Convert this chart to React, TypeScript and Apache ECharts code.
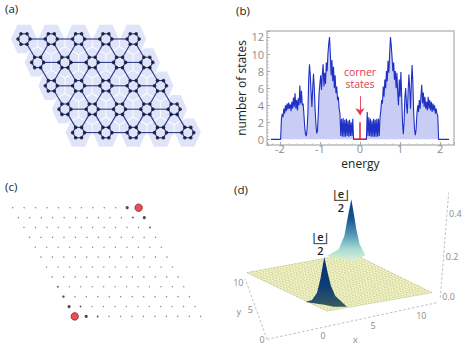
import React, { useEffect, useRef } from "react";
import * as echarts from "echarts";

const FONT = "Open Sans";

// (a) lattice
const hexRows = [0, 1, 2, 3, 4];
const hexCols = [0, 1, 2, 3, 4];

// (b) density of states
const energyStart = -2.22;
const energyStep = 0.02;
const dos = [
  0,0,0,0,0,0,0,0,0,0,0,0,0,
  2.4,3.0,2.6,3.6,3.0,4.0,3.3,4.2,3.5,4.3,3.6,4.1,3.3,4.4,3.6,4.9,3.8,5.4,3.6,4.6,3.4,4.8,4.0,6.3,4.2,5.7,4.0,4.2,3.0,1.5,0.6,0.4,1.2,
  3.0,7.0,8.8,7.5,5.5,3.8,6.0,7.7,6.0,3.5,1.8,0.7,1.0,3.0,5.5,6.5,7.5,5.8,7.6,8.8,6.2,7.8,6.5,9.0,8.0,10.0,11.2,12.0,10.0,7.5,9.3,6.8,8.5,6.0,7.5,5.4,6.2,4.6,5.0,3.6,3.0,
  0.4,2.4,0.3,2.5,0.3,2.3,0.3,2.4,0.4,2.2,0.3,2.3,0.4,2.0,0.4,2.4,
  0,0,0,0,0,0,0,0,0,0,0,0,0,0,0,0,0,
  3.2,0.4,2.6,0.4,2.4,0.3,2.2,0.3,2.4,0.3,2.3,0.3,2.4,0.3,2.4,0.4,2.6,3.4,4.6,4.2,6.2,5.0,7.0,6.0,8.0,6.8,9.2,7.8,10.0,12.0,11.0,9.6,8.0,9.0,7.0,8.0,6.0,7.8,5.5,4.0,7.0,5.0,7.9,5.0,2.0,0.6,2.0,5.0,6.0,4.0,3.0,5.5,7.6,6.0,3.6,6.5,8.7,6.5,3.0,1.2,0.5,1.2,
  3.0,4.0,3.2,4.6,3.6,5.0,6.4,4.2,5.5,3.8,5.0,3.6,4.4,3.4,5.0,3.6,4.6,3.4,4.4,3.2,4.2,3.4,4.0,3.0,3.6,3.0,2.8,
  0,0,0,0,0,0,0,0,0,0,0,0,0,0
];
const cornerEnergies = [-0.16, 0, 0, 0, 0.16];
const cornerValues = [0, 0, 2, 0, 0];
const arrowFrom = [0, 5.06];
const arrowTo = [0, 2.84];

// (c) weight of the corner state on each site
const siteWeights = [
  [1,1,1,1,1,1,1,1,1,1,3,0],
  [1,1,1,1,1,1,1,1,1,1,1.5,3],
  [1,1,1,1,1,1,1,1,1,1,1,1.5],
  [1,1,1,1,1,1,1,1,1,1,1,1],
  [1,1,1,1,1,1,1,1,1,1,1,1],
  [1,1,1,1,1,1,1,1,1,1,1,1],
  [1,1,1,1,1,1,1,1,1,1,1,1],
  [1,1,1,1,1,1,1,1,1,1,1,1],
  [1.5,1,1,1,1,1,1,1,1,1,1,1],
  [2.2,1,1,1,1,1,1,1,1,1,1,1],
  [3,1.5,1,1,1,1,1,1,1,1,1,1],
  [0,3,1.5,1,1,1,1,1,1,1,1,1],
];
const cornerSites = [[11, 0], [0, 11]];

// (d) surface, in plot units of the hidden axes
const sheet = [[30, 290], [345, 232], [585, 350], [270, 405]];
const frontPeak = [[262,243],[272,290],[282,330],[295,360],[330,392],[290,392],[262,386],[225,381],[205,378],[225,372],[240,350],[250,310],[256,275]];
const backPeak = [[343,70],[350,110],[358,160],[368,205],[385,238],[362,250],[345,256],[325,250],[270,240],[305,220],[322,180],[333,120]];
const boxEdges = [
  [[90,490],[600,380]],
  [[90,490],[25,310]],
  [[610,365],[635,50]],
];
const zTicks = [[655,112,"0.4"],[645,240,"0.2"],[635,360,"0.0"]];
const xTicks = [[258,478,"0"],[408,448,"5"],[553,418,"10"],[355,490,"x"]];
const yTicks = [[75,490,"0"],[40,400,"5"],[4,318,"10"],[5,405,"y"]];
const fractions = [[250,182,203,224],[312,52,73,94]];

const hide = { show: false };

function latticeX(c: number, r: number) { return c + r * 0.5; }
function latticeY(r: number) { return r * 0.857; }

function buildOption() {
  const cells: number[][] = [];
  hexRows.forEach((r) => hexCols.forEach((c) => cells.push([latticeX(c, r), latticeY(r), r, c])));

  const ringR = 0.22;
  const ring = [0, 60, 120, 180, 240, 300].map((a) => [Math.cos((a * Math.PI) / 180) * ringR, Math.sin((a * Math.PI) / 180) * ringR]);
  const sites: number[][] = [];
  const bonds: number[][] = [];
  const seams: number[][] = [];
  const gaps: number[][] = [];
  const half = 0.289;
  cells.forEach(([x, y, r, c]) => {
    ring.forEach((p, i) => {
      const q = ring[(i + 1) % 6];
      sites.push([x + p[0], y + p[1]]);
      bonds.push([x + p[0], y + p[1], x + q[0], y + q[1]]);
    });
    if (c < 4) {
      bonds.push([x + ring[0][0], y, latticeX(c + 1, r) + ring[3][0], y]);
      seams.push([x + 0.5, y - half, x + 0.5, y + half]);
    }
    if (r < 4) {
      const yy = latticeY(r + 1);
      bonds.push([x + ring[1][0], y + ring[1][1], latticeX(c, r + 1) + ring[4][0], yy + ring[4][1]]);
      const mx = x + 0.25, my = (y + yy) / 2;
      seams.push([mx - 0.866 * half, my + 0.5 * half, mx + 0.866 * half, my - 0.5 * half]);
      if (c < 4) gaps.push([x, y, x + 1, y, x + 0.5, yy]);
      if (c > 0) {
        bonds.push([x + ring[2][0], y + ring[2][1], latticeX(c - 1, r + 1) + ring[5][0], yy + ring[5][1]]);
        const nx = x - 0.25;
        seams.push([nx - 0.866 * half, my - 0.5 * half, nx + 0.866 * half, my + 0.5 * half]);
        gaps.push([x, y, x - 0.5, yy, x + 0.5, yy]);
      }
    }
  });

  const sitesC: any[] = [];
  siteWeights.forEach((row, r) => row.forEach((w, c) => {
    if (w > 0) sitesC.push([c + r * 0.4926, r, w]);
  }));

  const dosData = dos.map((v, i) => [+(energyStart + i * energyStep).toFixed(2), v]);

  const meshLines: number[][][] = [];
  const [A, B, C, D] = sheet;
  for (let i = 0; i <= 24; i++) {
    const t = i / 24;
    meshLines.push([[A[0] + (D[0] - A[0]) * t, A[1] + (D[1] - A[1]) * t], [B[0] + (C[0] - B[0]) * t, B[1] + (C[1] - B[1]) * t]]);
    meshLines.push([[A[0] + (B[0] - A[0]) * t, A[1] + (B[1] - A[1]) * t], [D[0] + (C[0] - D[0]) * t, D[1] + (C[1] - D[1]) * t]]);
  }

  const poly = (pts: number[][], api: any, style: any) => ({
    type: "polygon",
    shape: { points: pts.map((p) => api.coord(p)) },
    style,
  });
  const seg = (p: number[], q: number[], api: any, style: any) => {
    const a = api.coord(p), b = api.coord(q);
    return { type: "line", shape: { x1: a[0], y1: a[1], x2: b[0], y2: b[1] }, style };
  };
  const txt = (x: number, y: number, s: string, api: any, fs: number, color: string, weight = 400) => {
    const a = api.coord([x, y]);
    return { type: "text", x: a[0], y: a[1], style: { text: s, fill: color, fontSize: fs, fontFamily: FONT, fontWeight: weight, align: "center", verticalAlign: "middle" } };
  };

  const labelItems = [...zTicks, ...xTicks, ...yTicks] as [number, number, string][];
  const panelLabel = (text: string, x: number, y: number) => ({ type: "text", x, y, style: { text, fontSize: 11.5, fontFamily: FONT, fill: "#222" } });

  return {
    animation: false,
    backgroundColor: "#fff",
    textStyle: { fontFamily: FONT },
    grid: [
      { left: 10, top: 20, width: 191, height: 133 },
      { left: 267, top: 31, width: 187, height: 114, show: true, borderColor: "#bdbdbd", borderWidth: 1.5, backgroundColor: "transparent" },
      { left: 5, top: 200, width: 215, height: 125 },
      { left: 237, top: 176, width: 237, height: 177 },
    ],
    xAxis: [
      { type: "value", gridIndex: 0, min: -0.513, max: 6.484, ...hide },
      {
        type: "value", gridIndex: 1, min: -2.32, max: 2.345, splitNumber: 5,
        name: "energy", nameLocation: "middle", nameGap: 12, nameMoveOverlap: false,
        nameTextStyle: { color: "#222", fontSize: 12, fontFamily: FONT },
        axisLine: { show: false, onZero: false },
        axisTick: { show: true, inside: true, length: 3, lineStyle: { color: "#aaa" } },
        minorTick: { show: true, splitNumber: 5, length: 1.5, lineStyle: { color: "#bbb" } },
        splitLine: { show: false },
        axisLabel: { color: "#8c8c8c", fontSize: 11, margin: -2, fontFamily: FONT, showMinLabel: false, showMaxLabel: false },
      },
      { type: "value", gridIndex: 2, min: -0.672, max: 18.105, ...hide },
      { type: "value", gridIndex: 3, min: 0, max: 711, ...hide },
    ],
    yAxis: [
      { type: "value", gridIndex: 0, min: -0.696, max: 4.176, inverse: true, ...hide },
      {
        type: "value", gridIndex: 1, min: -0.66, max: 12.7, splitNumber: 7,
        name: "number of states", nameLocation: "middle", nameGap: 16,
        nameTextStyle: { color: "#222", fontSize: 12, fontFamily: FONT },
        axisLine: { show: false, onZero: false },
        axisTick: { show: true, inside: true, length: 3, lineStyle: { color: "#aaa" } },
        minorTick: { show: true, splitNumber: 5, length: 1.5, lineStyle: { color: "#bbb" } },
        splitLine: { show: false },
        axisLabel: { color: "#8c8c8c", fontSize: 11, margin: 3, fontFamily: FONT, showMinLabel: false, showMaxLabel: false },
      },
      { type: "value", gridIndex: 2, min: -0.78, max: 11.87, inverse: true, ...hide },
      { type: "value", gridIndex: 3, min: 0, max: 531, inverse: true, ...hide },
    ],
    graphic: [
      panelLabel("(a)", 5, 2),
      panelLabel("(b)", 236, 4),
      panelLabel("(c)", 5, 180),
      panelLabel("(d)", 234, 183),
      { type: "text", x: 360, y: 78, style: { text: "corner\nstates", lineHeight: 12.5, fontSize: 10.5, fontFamily: FONT, fill: "#e8384f", align: "center", verticalAlign: "middle" } },
    ],
    series: [
      // (a)
      {
        type: "custom", xAxisIndex: 0, yAxisIndex: 0, silent: true, clip: false, z: 1,
        data: cells.map((c) => [c[0], c[1]]),
        renderItem: (_: any, api: any) => {
          const x = api.value(0), y = api.value(1);
          const rx = 0.476, hx = 0.24, hy = 0.52;
          return poly([[x + rx, y], [x + hx, y + hy], [x - hx, y + hy], [x - rx, y], [x - hx, y - hy], [x + hx, y - hy]], api, { fill: "#e0e4f8", stroke: "none" });
        },
      },
      {
        type: "custom", xAxisIndex: 0, yAxisIndex: 0, silent: true, clip: false, z: 1,
        data: gaps,
        renderItem: (_: any, api: any) => poly([[api.value(0), api.value(1)], [api.value(2), api.value(3)], [api.value(4), api.value(5)]], api, { fill: "#e0e4f8", stroke: "#e0e4f8", lineWidth: 0.5 }),
        encode: { x: 0, y: 1 },
      },
      {
        type: "custom", xAxisIndex: 0, yAxisIndex: 0, silent: true, clip: false, z: 2,
        data: seams,
        renderItem: (_: any, api: any) => seg([api.value(0), api.value(1)], [api.value(2), api.value(3)], api, { stroke: "#fbfbff", lineWidth: 1.1 }),
        encode: { x: 0, y: 1 },
      },
      {
        type: "custom", xAxisIndex: 0, yAxisIndex: 0, silent: true, clip: false, z: 3,
        data: bonds,
        renderItem: (_: any, api: any) => seg([api.value(0), api.value(1)], [api.value(2), api.value(3)], api, { stroke: "#2b3a8a", lineWidth: 1.1 }),
        encode: { x: 0, y: 1 },
      },
      {
        type: "scatter", xAxisIndex: 0, yAxisIndex: 0, silent: true, z: 4,
        data: sites, symbolSize: 3.6, itemStyle: { color: "#0c0f2a" },
      },
      // (b)
      {
        type: "line", xAxisIndex: 1, yAxisIndex: 1, data: dosData, showSymbol: false, silent: true, z: 2,
        lineStyle: { color: "#1f30c4", width: 1.1 },
        areaStyle: { color: "#c9cdf6", opacity: 1 },
      },
      {
        type: "line", xAxisIndex: 1, yAxisIndex: 1, silent: true, showSymbol: false, z: 3,
        data: cornerEnergies.map((e, i) => [e, cornerValues[i]]),
        lineStyle: { color: "#e8202c", width: 1.5 },
        markLine: {
          silent: true, symbol: ["none", "arrow"], symbolSize: 7, label: { show: false },
          lineStyle: { color: "#e8384f", width: 0.9, type: "solid" },
          data: [[{ coord: arrowFrom }, { coord: arrowTo }]],
        },
      },
      // (c)
      {
        type: "scatter", xAxisIndex: 2, yAxisIndex: 2, silent: true, z: 2,
        data: sitesC,
        symbolSize: (v: number[]) => (v[2] === 1 ? 1.4 : v[2] + 0.2),
        itemStyle: { color: (p: any) => (p.value[2] === 1 ? "#6a6a70" : "#2a1a20") },
      },
      {
        type: "scatter", xAxisIndex: 2, yAxisIndex: 2, silent: true, z: 3,
        data: cornerSites.map(([r, c]) => [c + r * 0.4926, r]),
        symbolSize: 7.5,
        itemStyle: { color: "#e8202c", borderColor: "#5a1414", borderWidth: 0.8 },
      },
      // (d)
      {
        type: "custom", xAxisIndex: 3, yAxisIndex: 3, silent: true, clip: false, z: 2,
        data: [[0, 0]],
        renderItem: (_: any, api: any) => ({
          type: "group",
          children: [
            ...boxEdges.map(([p, q]) => seg(p, q, api, { stroke: "#bcc0cc", lineWidth: 1, lineDash: [2.5, 2] })),
            poly(sheet, api, { fill: "#f3f4c2", stroke: "#c9cc98", lineWidth: 0.4 }),
            ...meshLines.map(([p, q]) => seg(p, q, api, { stroke: "#a7b184", lineWidth: 0.45, lineDash: [1.5, 1.5] })),
            poly(backPeak, api, {
              fill: {
                type: "linear", x: 0, y: 0, x2: 0, y2: 1,
                colorStops: [
                  { offset: 0, color: "#0e3d8e" }, { offset: 0.3, color: "#16518f" }, { offset: 0.55, color: "#4f94b4" },
                  { offset: 0.8, color: "#a6dad3" }, { offset: 1, color: "#dff1d2" },
                ],
              },
            }),
            poly(frontPeak, api, {
              fill: {
                type: "linear", x: 0, y: 0, x2: 0, y2: 1,
                colorStops: [
                  { offset: 0, color: "#0e2f70" }, { offset: 0.55, color: "#0d3b76" }, { offset: 0.85, color: "#27506a" }, { offset: 1, color: "#3a5a5c" },
                ],
              },
            }),
            ...labelItems.map(([x, y, s]) => txt(x, y, s, api, 9, "#8a8a8a")),
            ...fractions.flatMap(([x, y1, y2, y3]) => [
              txt(x, y1, "|e|", api, 11, "#222", 600),
              seg([x - 18, y2], [x + 18, y2], api, { stroke: "#222", lineWidth: 0.9 }),
              txt(x, y3, "2", api, 11, "#222", 600),
            ]),
          ],
        }),
      },
    ],
  };
}

export default function App() {
  const ref = useRef<HTMLDivElement>(null);
  useEffect(() => {
    document.body.style.margin = "0";
    const chart = echarts.init(ref.current!, undefined, { renderer: "svg" });
    chart.setOption(buildOption() as any);
    return () => chart.dispose();
  }, []);
  return <div ref={ref} style={{ width: 474, height: 353 }} />;
}
